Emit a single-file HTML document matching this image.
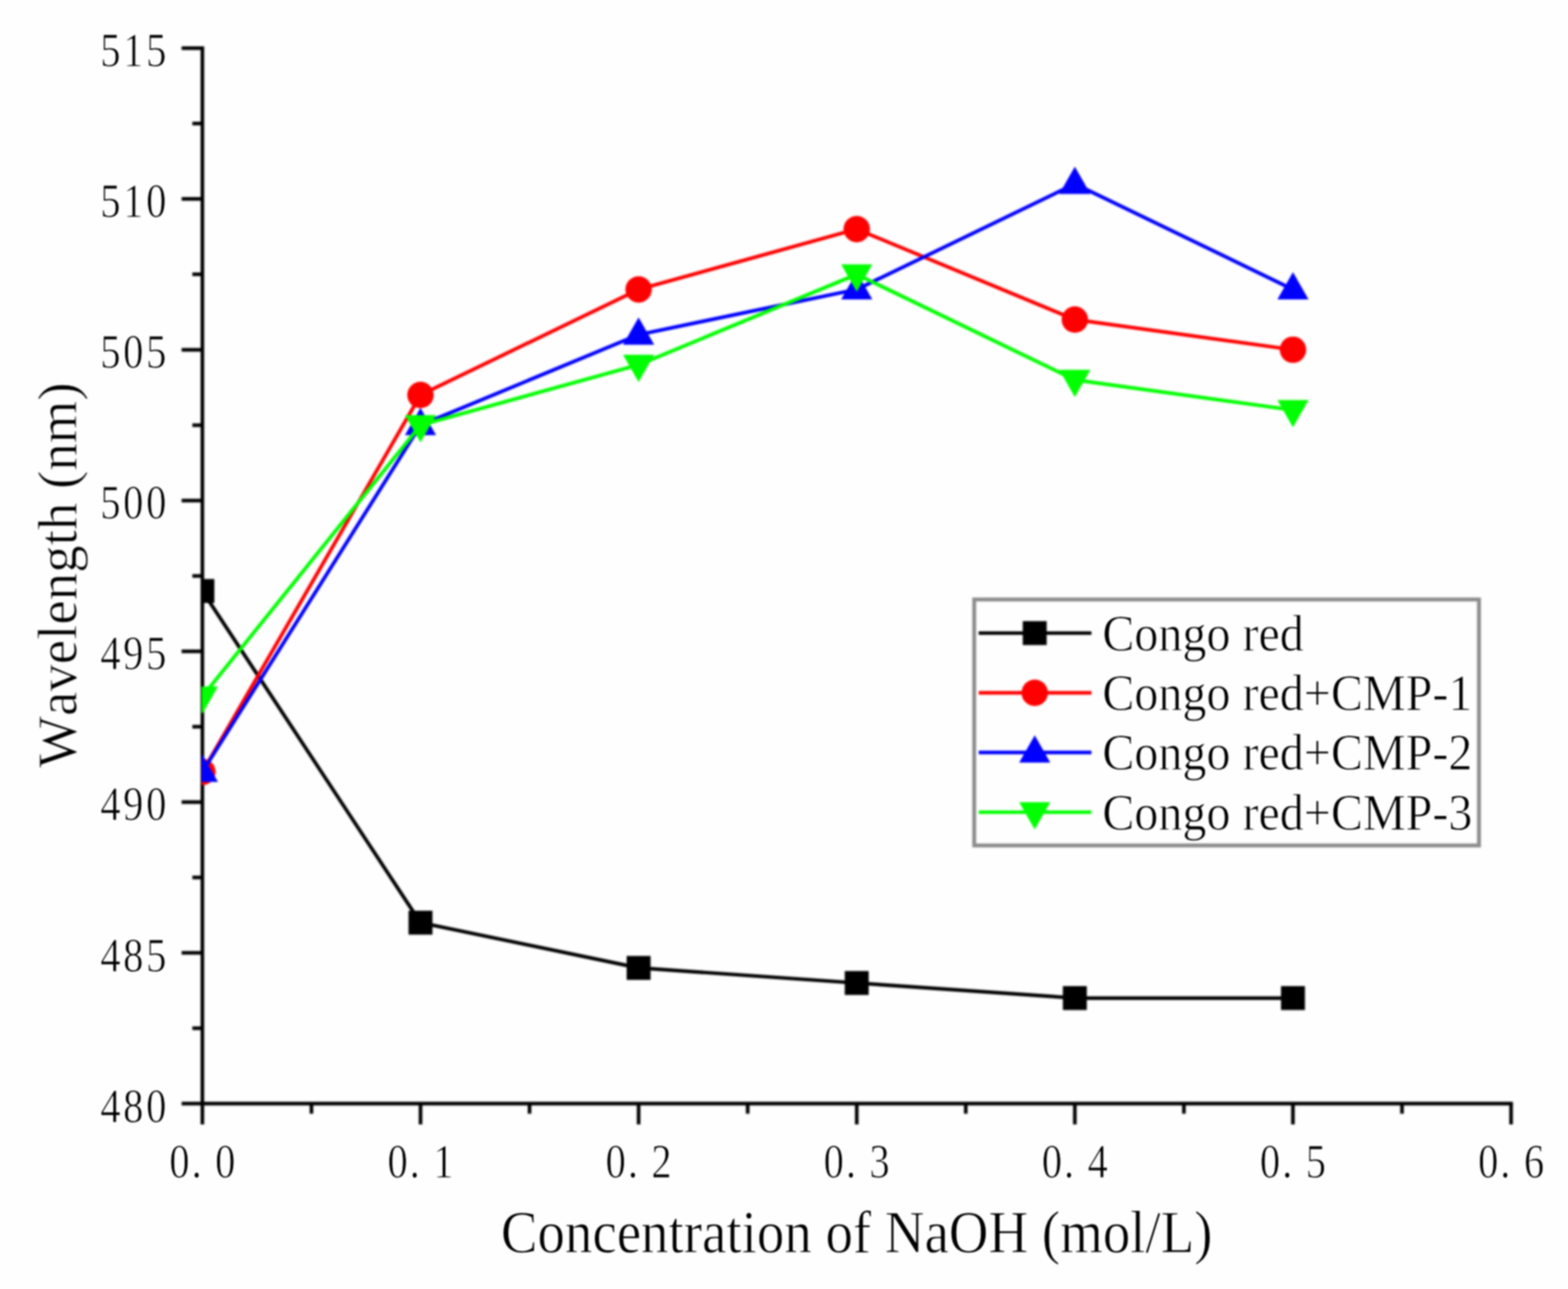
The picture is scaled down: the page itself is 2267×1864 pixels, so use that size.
<!DOCTYPE html>
<html lang="en"><head><meta charset="utf-8"><title>Wavelength vs Concentration of NaOH</title>
<style>
html,body{margin:0;padding:0;background:#fff;}
body{width:2267px;height:1864px;}
svg{display:block;}
text{font-family:"Liberation Serif",serif;fill:#000;font-kerning:none;}
.tk{font-size:69px;text-anchor:middle;stroke:#fefefe;stroke-width:1.0px;stroke-linejoin:round;}
.ti{font-size:86.2px;text-anchor:middle;stroke:#fefefe;stroke-width:1.0px;stroke-linejoin:round;}
.lg{font-size:73.5px;stroke:#fefefe;stroke-width:1.0px;stroke-linejoin:round;}
</style></head><body>
<svg width="2267" height="1864" viewBox="0 0 2267 1864">
<defs>
<filter id="soft" color-interpolation-filters="sRGB" x="0" y="0" width="2267" height="1864" filterUnits="userSpaceOnUse"><feGaussianBlur stdDeviation="1.4"/></filter>
<filter id="softt" color-interpolation-filters="sRGB" x="0" y="0" width="2267" height="1864" filterUnits="userSpaceOnUse"><feGaussianBlur stdDeviation="1.0"/></filter>
<clipPath id="plot"><rect x="291.4" y="0" width="2267" height="1598.9"/></clipPath>
</defs>
<rect width="2267" height="1864" fill="#fefefe"/>
<g filter="url(#soft)">
<g stroke="#000" stroke-width="5.2" fill="none">
<path stroke-width="5.2" d="M292.6,67.1 V1625.9 M262.6,1595.9 H2187.3"/>
<path d="M278.1,1486.9 H292.6 M262.6,1377.9 H292.6 M278.1,1268.9 H292.6 M262.6,1159.8 H292.6 M278.1,1050.8 H292.6 M262.6,941.8 H292.6 M278.1,832.8 H292.6 M262.6,723.8 H292.6 M278.1,614.8 H292.6 M262.6,505.8 H292.6 M278.1,396.7 H292.6 M262.6,287.7 H292.6 M278.1,178.7 H292.6 M262.6,69.7 H292.6 M450.3,1595.9 V1610.4 M608.0,1595.9 V1625.9 M765.6,1595.9 V1610.4 M923.3,1595.9 V1625.9 M1081.0,1595.9 V1610.4 M1238.7,1595.9 V1625.9 M1396.3,1595.9 V1610.4 M1554.0,1595.9 V1625.9 M1711.7,1595.9 V1610.4 M1869.3,1595.9 V1625.9 M2027.0,1595.9 V1610.4 M2184.7,1595.9 V1625.9"/>
</g>
<g clip-path="url(#plot)">
<polyline points="292.60,854.60 607.95,1334.27 923.30,1399.67 1238.65,1421.48 1554.00,1443.28 1869.35,1443.28" fill="none" stroke="#000000" stroke-width="5.2" stroke-linejoin="round"/>
<rect x="275.30" y="837.30" width="34.6" height="34.6" fill="#000000"/>
<rect x="590.65" y="1316.97" width="34.6" height="34.6" fill="#000000"/>
<rect x="906.00" y="1382.37" width="34.6" height="34.6" fill="#000000"/>
<rect x="1221.35" y="1404.18" width="34.6" height="34.6" fill="#000000"/>
<rect x="1536.70" y="1425.98" width="34.6" height="34.6" fill="#000000"/>
<rect x="1852.05" y="1425.98" width="34.6" height="34.6" fill="#000000"/>
<polyline points="292.60,1116.24 607.95,571.17 923.30,418.55 1238.65,331.33 1554.00,462.15 1869.35,505.76" fill="none" stroke="#ff0000" stroke-width="5.2" stroke-linejoin="round"/>
<circle cx="292.60" cy="1116.24" r="19.1" fill="#ff0000"/>
<circle cx="607.95" cy="571.17" r="19.1" fill="#ff0000"/>
<circle cx="923.30" cy="418.55" r="19.1" fill="#ff0000"/>
<circle cx="1238.65" cy="331.33" r="19.1" fill="#ff0000"/>
<circle cx="1554.00" cy="462.15" r="19.1" fill="#ff0000"/>
<circle cx="1869.35" cy="505.76" r="19.1" fill="#ff0000"/>
<polyline points="292.60,1116.24 607.95,614.77 923.30,483.95 1238.65,418.55 1554.00,265.93 1869.35,418.55" fill="none" stroke="#0000ff" stroke-width="5.2" stroke-linejoin="round"/>
<polygon points="292.60,1091.24 315.10,1130.74 270.10,1130.74" fill="#0000ff"/>
<polygon points="607.95,589.77 630.45,629.27 585.45,629.27" fill="#0000ff"/>
<polygon points="923.30,458.95 945.80,498.45 900.80,498.45" fill="#0000ff"/>
<polygon points="1238.65,393.55 1261.15,433.05 1216.15,433.05" fill="#0000ff"/>
<polygon points="1554.00,240.93 1576.50,280.43 1531.50,280.43" fill="#0000ff"/>
<polygon points="1869.35,393.55 1891.85,433.05 1846.85,433.05" fill="#0000ff"/>
<polyline points="292.60,1007.22 607.95,614.77 923.30,527.56 1238.65,396.74 1554.00,549.36 1869.35,592.97" fill="none" stroke="#00ff00" stroke-width="5.2" stroke-linejoin="round"/>
<polygon points="292.60,1032.22 315.10,992.72 270.10,992.72" fill="#00ff00"/>
<polygon points="607.95,639.77 630.45,600.27 585.45,600.27" fill="#00ff00"/>
<polygon points="923.30,552.56 945.80,513.06 900.80,513.06" fill="#00ff00"/>
<polygon points="1238.65,421.74 1261.15,382.24 1216.15,382.24" fill="#00ff00"/>
<polygon points="1554.00,574.36 1576.50,534.86 1531.50,534.86" fill="#00ff00"/>
<polygon points="1869.35,617.97 1891.85,578.47 1846.85,578.47" fill="#00ff00"/>
</g>
<rect x="1408.5" y="866.9" width="729.8" height="355.7" fill="#fefefe" stroke="#8c8c8c" stroke-width="5.6"/>
<line x1="1415" y1="915.5" x2="1578" y2="915.5" stroke="#000000" stroke-width="5.2"/>
<rect x="1478.70" y="898.20" width="34.6" height="34.6" fill="#000000"/>
<line x1="1415" y1="1001.9" x2="1578" y2="1001.9" stroke="#ff0000" stroke-width="5.2"/>
<circle cx="1496.00" cy="1001.85" r="19.1" fill="#ff0000"/>
<line x1="1415" y1="1088.2" x2="1578" y2="1088.2" stroke="#0000ff" stroke-width="5.2"/>
<polygon points="1496.00,1063.20 1518.50,1102.70 1473.50,1102.70" fill="#0000ff"/>
<line x1="1415" y1="1174.5" x2="1578" y2="1174.5" stroke="#00ff00" stroke-width="5.2"/>
<polygon points="1496.00,1199.55 1518.50,1160.05 1473.50,1160.05" fill="#00ff00"/>
</g>
<g filter="url(#softt)">
<text class="tk" transform="translate(0,1622.5) scale(0.85,1)" x="187.76 226.71 265.65" y="0">480</text>
<text class="tk" transform="translate(0,1404.5) scale(0.85,1)" x="187.76 226.71 265.65" y="0">485</text>
<text class="tk" transform="translate(0,1186.4) scale(0.85,1)" x="187.76 226.71 265.65" y="0">490</text>
<text class="tk" transform="translate(0,968.4) scale(0.85,1)" x="187.76 226.71 265.65" y="0">495</text>
<text class="tk" transform="translate(0,750.4) scale(0.85,1)" x="187.76 226.71 265.65" y="0">500</text>
<text class="tk" transform="translate(0,532.4) scale(0.85,1)" x="187.76 226.71 265.65" y="0">505</text>
<text class="tk" transform="translate(0,314.3) scale(0.85,1)" x="187.76 226.71 265.65" y="0">510</text>
<text class="tk" transform="translate(0,96.3) scale(0.85,1)" x="187.76 226.71 265.65" y="0">515</text>
<text class="tk" transform="translate(0,1703.0) scale(0.85,1)" x="305.29 334.47 383.18" y="0">0.0</text>
<text class="tk" transform="translate(0,1703.0) scale(0.85,1)" x="676.29 705.47 754.18" y="0">0.1</text>
<text class="tk" transform="translate(0,1703.0) scale(0.85,1)" x="1047.29 1076.47 1125.18" y="0">0.2</text>
<text class="tk" transform="translate(0,1703.0) scale(0.85,1)" x="1418.29 1447.47 1496.18" y="0">0.3</text>
<text class="tk" transform="translate(0,1703.0) scale(0.85,1)" x="1789.29 1818.47 1867.18" y="0">0.4</text>
<text class="tk" transform="translate(0,1703.0) scale(0.85,1)" x="2160.29 2189.47 2238.18" y="0">0.5</text>
<text class="tk" transform="translate(0,1703.0) scale(0.85,1)" x="2531.29 2560.47 2609.18" y="0">0.6</text>
<text class="ti" transform="translate(1238.6,1810.7) scale(0.9205,1)" x="0" y="0">Concentration of NaOH (mol/L)</text>
<text class="ti" style="font-size:80px" transform="translate(110.2,831.6) rotate(-90) scale(0.992,1)" x="0" y="0">Wavelength (nm)</text>
<text class="lg" transform="translate(1593.8,940.5) scale(0.945,1)" x="0" y="0">Congo red</text>
<text class="lg" transform="translate(1593.8,1026.8) scale(0.945,1)" x="0" y="0">Congo red+CMP-1</text>
<text class="lg" transform="translate(1593.8,1113.2) scale(0.945,1)" x="0" y="0">Congo red+CMP-2</text>
<text class="lg" transform="translate(1593.8,1199.5) scale(0.945,1)" x="0" y="0">Congo red+CMP-3</text>
</g>
</svg>
</body></html>
